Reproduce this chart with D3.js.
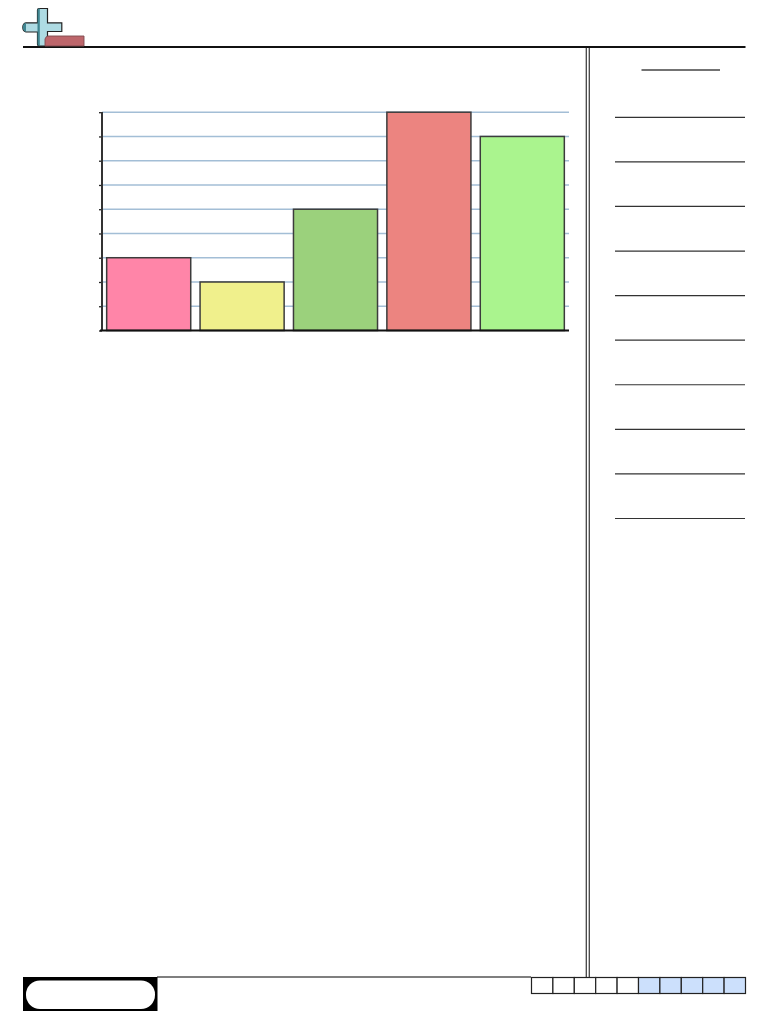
<!DOCTYPE html>
<html>
<head>
<meta charset="utf-8">
<script src="https://cdn.jsdelivr.net/npm/d3@7/dist/d3.min.js"></script>
<style>
html,body{margin:0;padding:0;background:#fff;}
svg{display:block;}
</style>
</head>
<body>
<svg id="c" width="768" height="1024"></svg>
<script>
const categories = ["a","b","c","d","e"];
const values = [3,2,5,9,8];
const barColors = ["#ff85a8","#f0f08c","#9bd17c","#ec8480","#aaf48e"];
const yTicks = [0,1,2,3,4,5,6,7,8,9];
const answerRows = [1,2,3,4,5,6,7,8,9,10];
const scoreBoxes = [0,1,2,3,4,5,6,7,8,9];
const scoreFill = ["#fff","#fff","#fff","#fff","#fff","#cce0fc","#cce0fc","#cce0fc","#cce0fc","#cce0fc"];

const svg = d3.select("#c");
const x = d3.scaleBand().domain(categories).range([102,569]).paddingInner(0.1).paddingOuter(0.05);
const y = d3.scaleLinear().domain([0,9]).range([330.5,112.2]);

// grid
svg.append("g").selectAll("line").data(yTicks.slice(1)).join("line")
  .attr("x1",102).attr("x2",569)
  .attr("y1",d=>y(d)).attr("y2",d=>y(d))
  .attr("stroke","#a3bed6").attr("stroke-width",1.5);

// bars
svg.append("g").selectAll("rect").data(values).join("rect")
  .attr("x",(d,i)=>x(categories[i]))
  .attr("y",d=>y(d))
  .attr("width",x.bandwidth())
  .attr("height",d=>y(0)-y(d))
  .attr("fill",(d,i)=>barColors[i])
  .attr("stroke","#3c3c3c").attr("stroke-width",1.5);

// axes
const ax = svg.append("g").attr("transform","translate(102,0)")
  .call(d3.axisLeft(y).tickValues(yTicks).tickFormat("").tickSize(3));
ax.selectAll("path").remove();
ax.selectAll("line").attr("stroke","#222").attr("stroke-width",1.3);
svg.append("line").attr("x1",102).attr("x2",102).attr("y1",112).attr("y2",331)
  .attr("stroke","#333").attr("stroke-width",2);
svg.append("line").attr("x1",100).attr("x2",569).attr("y1",330.5).attr("y2",330.5)
  .attr("stroke","#111").attr("stroke-width",2);

// page frame
svg.append("line").attr("x1",23).attr("x2",745.5).attr("y1",47).attr("y2",47)
  .attr("stroke","#111").attr("stroke-width",2);
[586.3,589.3].forEach(p=>svg.append("line").attr("x1",p).attr("x2",p).attr("y1",48).attr("y2",977)
  .attr("stroke","#444").attr("stroke-width",1.3));
svg.append("line").attr("x1",157).attr("x2",531).attr("y1",977).attr("y2",977)
  .attr("stroke","#555").attr("stroke-width",1.4);

// answer column
svg.append("line").attr("x1",641.5).attr("x2",720).attr("y1",70).attr("y2",70)
  .attr("stroke","#444").attr("stroke-width",1.3);
const ay = d3.scalePoint().domain(answerRows).range([117.3,518.5]);
svg.append("g").selectAll("line").data(answerRows).join("line")
  .attr("x1",615).attr("x2",745)
  .attr("y1",d=>ay(d)).attr("y2",d=>ay(d))
  .attr("stroke","#333").attr("stroke-width",1.2);

// logo
const logo = svg.append("g");
const plus = "M39 8.5 L47.5 8.5 L47.5 22.8 L61.8 22.8 L61.8 31.5 L47.5 31.5 L47.5 46 L40 46 Q37.5 46 37.5 44 L37.5 32 L26 32 Q22.8 31 22.8 27.3 Q22.8 23.5 26 22.8 L37.5 22.8 L37.5 10 Q37.5 8.5 39 8.5 Z";
logo.append("path").attr("d",plus).attr("fill","#aedbe3").attr("stroke","#222").attr("stroke-width",1.2);
logo.append("path").attr("d","M37.5 10 Q37.5 8.5 39 8.5 L39.8 8.5 L39.8 46 Q37.5 46 37.5 44 Z").attr("fill","#3f8590");
logo.append("path").attr("d","M26 22.8 Q22.8 23.5 22.8 27.3 Q22.8 31 26 32 Z").attr("fill","#3f8590");
logo.append("path").attr("d","M45 46 L45 39 Q46 36 48 36 L84 36 L84 46 Z")
  .attr("fill","#bd666b").attr("stroke","#7d4a4e").attr("stroke-width",0.9);

// name plate
svg.append("rect").attr("x",23).attr("y",977).attr("width",134.5).attr("height",34).attr("fill","#000");
svg.append("rect").attr("x",26).attr("y",980.5).attr("width",129).attr("height",28.5).attr("rx",14).attr("ry",14).attr("fill","#fff");

// score boxes
const sx = d3.scaleBand().domain(scoreBoxes).range([531.5,745.5]);
svg.append("g").selectAll("rect").data(scoreBoxes).join("rect")
  .attr("x",d=>sx(d)).attr("y",977.5)
  .attr("width",sx.bandwidth()).attr("height",16)
  .attr("fill",(d,i)=>scoreFill[i])
  .attr("stroke","#222").attr("stroke-width",1.2);
</script>
</body>
</html>
